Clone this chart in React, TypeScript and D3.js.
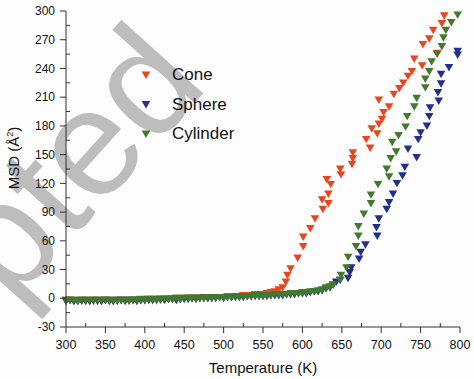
import React from "react";
import * as d3 from "d3";

const coneT = [300,305,310,315,320,325,330,335,340,345,350,355,360,365,370,375,380,385,390,395,400,405,410,415,420,425,430,435,440,445,450,455,460,465,470,475,480,485,490,495,500,505,510,515,520,525,530,535,540,545,550,555,560,565,570,
  575,579,581,585,594,601,601,610,616,626,633,625,633,636,631,649,648,663,664,664,686,681,695,688,697,701,703,710,697,716,723,728,734,739,752,742,771,753,761,766,777,780];
const coneV = [-1,-1,-2,-1,-2,-1,-2,-1,-1,-2,-1,-1,-2,-1,-1,-1,-2,-1,-1,-1,-1,0,-1,0,-1,0,0,0,1,0,1,1,1,1,1,2,1,2,2,2,2,3,2,3,3,4,3,4,5,4,5,6,7,8,10,
  12,18,25,32,43,55,65,74,84,94,100,104,110,120,125,130,136,141,147,153,158,167,173,178,183,188,195,201,208,214,220,226,233,238,244,251,257,266,272,281,288,296];

const sphereT = [300,305,310,315,320,325,330,335,340,345,350,355,360,365,370,375,380,385,390,395,400,405,410,415,420,425,430,435,440,445,450,455,460,465,470,475,480,485,490,495,500,505,510,515,520,525,530,535,540,545,550,555,560,565,570,575,580,585,590,595,600,605,610,615,620,625,630,635,
  639,643,648,658,660,662,672,674,680,695,694,697,707,710,715,720,727,730,745,734,747,750,758,761,762,773,772,776,776,786,797,797];
const sphereV = [-2,-1,-2,-2,-1,-2,-2,-1,-2,-2,-1,-2,-2,-1,-1,-2,-1,-1,-2,-1,-1,-1,-1,-1,0,-1,0,0,-1,0,0,0,1,0,1,1,1,1,1,2,1,2,2,2,2,2,3,3,3,3,3,3,4,4,4,4,5,5,5,6,6,6,7,8,8,9,11,12,
  15,18,20,22,28,33,42,49,57,66,75,84,94,101,110,121,129,138,148,157,167,174,181,191,200,207,216,225,235,242,255,259];

const cylT = [300,305,310,315,320,325,330,335,340,345,350,355,360,365,370,375,380,385,390,395,400,405,410,415,420,425,430,435,440,445,450,455,460,465,470,475,480,485,490,495,500,505,510,515,520,525,530,535,540,545,550,555,560,565,570,575,580,585,590,595,600,605,610,615,620,625,630,635,
  639,648,649,656,658,668,671,671,678,687,687,696,710,707,712,719,714,722,731,733,742,745,756,756,761,764,771,777,779,782,789,797];
const cylV = [-1,-1,-1,-2,-1,-1,-1,-2,-1,-1,-1,-1,-1,-2,-1,-1,-1,-1,-1,0,-1,0,0,-1,0,0,0,0,1,0,1,1,1,1,1,1,2,1,2,2,2,2,2,3,3,3,3,3,4,3,4,4,4,5,5,5,5,6,6,6,7,7,8,8,9,10,12,13,
  15,20,25,33,44,55,66,76,89,100,109,120,128,136,147,154,164,171,180,191,201,210,221,230,238,248,256,264,273,281,289,297];

const seriesNames = ["Cone", "Sphere", "Cylinder"];
const seriesColors = ["#e8461f", "#22308a", "#417a2e"];
const xTicks = [300, 350, 400, 450, 500, 550, 600, 650, 700, 750, 800];
const yTicks = [-30, 0, 30, 60, 90, 120, 150, 180, 210, 240, 270, 300];
const watermark = "Accepted";

export default function App() {
  const W = 474, H = 379;
  const x = d3.scaleLinear().domain([300, 800]).range([66, 460]);
  const y = d3.scaleLinear().domain([-30, 300]).range([327, 11]);
  const tri = d3.symbol().type(d3.symbolTriangle).size(32)() as string;
  const series = [
    { t: coneT, v: coneV },
    { t: sphereT, v: sphereV },
    { t: cylT, v: cylV },
  ];
  const xMinor = d3.range(325, 800, 50);
  const yMinor = d3.range(-15, 300, 30);
  const axisColor = "#333";
  const font = "Liberation Sans, Arial, sans-serif";
  return (
    <svg width={W} height={H} style={{ position: "absolute", left: 0, top: 0, background: "#fdfdfd" }} fontFamily={font}>
      <text transform="translate(210,86) rotate(-48)" textAnchor="end" fontSize={152} fill="#bdbdbd">{watermark}</text>
      {series.map((s, si) => (
        <g key={si} fill={seriesColors[si]}>
          {s.t.map((t, i) => (
            <path key={i} d={tri} transform={`translate(${x(t)},${y(s.v[i])}) rotate(180)`} />
          ))}
        </g>
      ))}
      {/* axes */}
      <line x1={66} x2={66} y1={y(300)} y2={y(-30)} stroke={axisColor} />
      <line x1={x(300)} x2={x(800)} y1={327} y2={327} stroke={axisColor} />
      {yTicks.map((t) => (
        <g key={t}>
          <line x1={60} x2={66} y1={y(t)} y2={y(t)} stroke={axisColor} />
          <text x={55} y={y(t)} dy="0.35em" textAnchor="end" fontSize={12} fill="#111">{t}</text>
        </g>
      ))}
      {yMinor.map((t) => (
        <line key={t} x1={66} x2={70} y1={y(t)} y2={y(t)} stroke={axisColor} />
      ))}
      {xTicks.map((t) => (
        <g key={t}>
          <line x1={x(t)} x2={x(t)} y1={327} y2={333} stroke={axisColor} />
          <text x={x(t)} y={349} textAnchor="middle" fontSize={12.5} fill="#111">{t}</text>
        </g>
      ))}
      {xMinor.map((t) => (
        <line key={t} x1={x(t)} x2={x(t)} y1={327} y2={323} stroke={axisColor} />
      ))}
      <text x={263} y={373} textAnchor="middle" fontSize={15} fill="#111">Temperature (K)</text>
      <text transform="translate(19,158) rotate(-90)" textAnchor="middle" fontSize={15} fill="#111">
        MSD (Å<tspan fontSize={9} dy={-6}>2</tspan><tspan dy={6}>)</tspan>
      </text>
      {/* legend */}
      {seriesNames.map((n, i) => (
        <g key={n} transform={`translate(146,${74 + i * 29.5})`}>
          <path d={tri} fill={seriesColors[i]} transform="rotate(180)" />
          <text x={26} y={0} dy="0.36em" fontSize={17} fill="#111">{n}</text>
        </g>
      ))}
    </svg>
  );
}
